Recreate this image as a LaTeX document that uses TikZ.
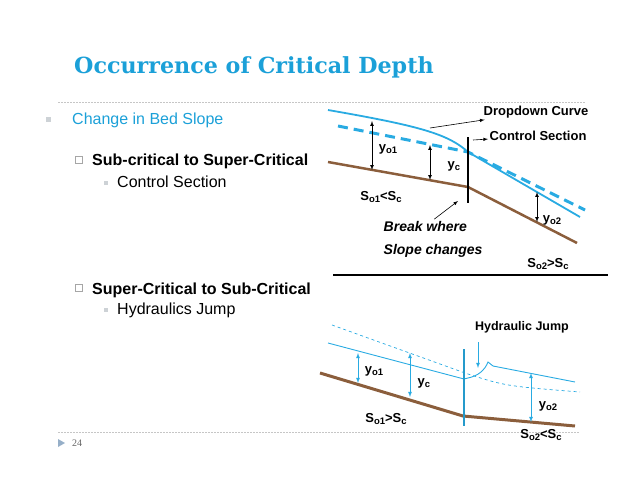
\documentclass[tikz,border=0pt]{standalone}
\usepackage{fontspec}
\setmainfont{Liberation Sans}
\newfontfamily\titlefont{DejaVu Serif}
\newfontfamily\pagefont{Liberation Serif}
\usetikzlibrary{positioning, arrows, shapes}

\definecolor{slideblue}{RGB}{27,160,216}
\definecolor{waterblue}{RGB}{41,171,226}
\definecolor{bedbrown}{RGB}{139,94,60}
\definecolor{bulletgray}{RGB}{205,210,214}
\definecolor{pagegray}{RGB}{150,175,200}

\newcommand{\dep}[2]{\textbf{#1}\raisebox{-0.35ex}{\fontsize{9.5}{10}\selectfont\bfseries #2}}

\tikzset{
  body/.style={anchor=base west, inner sep=0, font=\fontsize{16}{19}\selectfont},
  bulone/.style={fill=bulletgray, minimum size=5pt, inner sep=0},
  bultwo/.style={draw=gray!70, line width=0.6, minimum size=7pt, inner sep=0},
  bulthree/.style={fill=bulletgray, minimum size=4pt, inner sep=0},
  tag/.style={inner sep=1.5pt, font=\fontsize{13}{15}\selectfont\bfseries},
  bed/.style={draw=bedbrown, line width=2.5},
  water/.style={draw=waterblue, line width=1.8},
  crit/.style={draw=waterblue, line width=3, dash pattern=on 10pt off 6pt},
  depth/.style={<->, >=latex, line width=0.7},
  bdepth/.style={<->, >=latex, line width=0.8, waterblue},
  pointer/.style={->, >=latex, line width=0.6},
  sep/.style={draw=gray!45, line width=0.6, dash pattern=on 1.5pt off 1.5pt}
}

\begin{document}
\begin{tikzpicture}[x=1pt, y=-1pt]
\useasboundingbox (0,0) rectangle (638,493);

\node[anchor=base west, inner sep=0, text=slideblue,
      font=\titlefont\bfseries\fontsize{22.2}{26}\selectfont] (title) at (74,73.5) {Occurrence of Critical Depth};
\draw[sep] (58,102) -- (585,102);
\draw[sep] (58,432) -- (580,432);

% bullets
\node[bulone] (b1) at (48,119) {};
\node[body, text=slideblue] (t1) at (72,124) {Change in Bed Slope};
\node[bultwo] (b2) at (79,160) {};
\node[body, font=\fontsize{16}{19}\selectfont\bfseries] (t2) at (92,165) {Sub-critical to Super-Critical};
\node[bulthree] (b3) at (106,183) {};
\node[body] (t3) at (117,187.5) {Control Section};
\node[bultwo] (b4) at (79,288) {};
\node[body, font=\fontsize{16}{19}\selectfont\bfseries] (t4) at (92,294) {Super-Critical to Sub-Critical};
\node[bulthree] (b5) at (106,310) {};
\node[body] (t5) at (117,314.5) {Hydraulics Jump};

\fill[pagegray] (58,439) -- (65,443) -- (58,447) -- cycle;
\node[anchor=west, inner sep=0, text=gray!80!black, font=\pagefont\fontsize{10}{12}\selectfont] (pg) at (72,443) {24};

% sub- to super-critical
\coordinate (w1) at (328,110);
\coordinate (w2) at (468,152);
\coordinate (w3) at (580,217);
\coordinate (c1) at (338,126);
\coordinate (c3) at (585,210);
\coordinate (g1) at (328,162);
\coordinate (g2) at (468,187);
\coordinate (g3) at (577,243);
\draw[water] (w1) .. controls (420,126) and (448,134) .. (w2) -- (w3);
\draw[crit] (c1) -- (w2) -- (c3);
\draw[bed] (g1) -- (g2) -- (g3);
\draw[line width=2.5] (468,137) -- (468,203);
\draw[line width=1.8] (333,275) -- (608,275);

\coordinate (yo1t) at (372,121);
\coordinate (yo1b) at (372,170);
\coordinate (yct) at (430,145);
\coordinate (ycb) at (430,180);
\coordinate (yo2t) at (537,192);
\coordinate (yo2b) at (537,222);
\draw[depth] (yo1t) -- (yo1b);
\draw[depth] (yct) -- (ycb);
\draw[depth] (yo2t) -- (yo2b);

\node[tag] (lyo1) at (388,149) {\dep{y}{o1}};
\node[tag] (lyc) at (454,166) {\dep{y}{c}};
\node[tag] (lyo2) at (552,220) {\dep{y}{o2}};
\node[tag] (so1) at (381,197) {\dep{S}{o1}\textbf{<}\dep{S}{c}};
\node[tag] (so2) at (548,264) {\dep{S}{o2}\textbf{>}\dep{S}{c}};

\node[tag, anchor=west] (dd) at (482,112) {Dropdown Curve};
\node[tag, anchor=west] (cs) at (488,136) {Control Section};
\coordinate (ddfoot) at (430,128);
\coordinate (csfoot) at (473,140);
\draw[pointer] (ddfoot) -- (dd);
\draw[pointer] (csfoot) -- (cs);

\node[tag, anchor=west, font=\fontsize{14}{16}\selectfont\bfseries\itshape] (brk) at (382,226) {Break where};
\node[tag, anchor=west, font=\fontsize{14}{16}\selectfont\bfseries\itshape] (slp) at (382,251) {Slope changes};
\coordinate (brkhead) at (458,201);
\draw[pointer, <-] (brkhead) -- (brk);

% super- to sub-critical
\coordinate (d1) at (332,325);
\coordinate (d2) at (465,373);
\coordinate (d3) at (580,392);
\coordinate (s1) at (328,343);
\coordinate (s2) at (464,379);
\coordinate (s3) at (488,362);
\coordinate (s4) at (575,382);
\coordinate (h1) at (320,373);
\coordinate (h2) at (463,416);
\coordinate (h3) at (575,426);
\draw[waterblue, line width=0.7, dash pattern=on 3pt off 3pt] (d1) -- (d2) .. controls (505,386) .. (d3);
\draw[waterblue, line width=0.9] (s1) -- (s2) -- (468,378) .. controls (478,376) and (485,370) .. (s3) -- (493,366) -- (s4);
\draw[bedbrown, line width=3] (h1) -- (h2) -- (h3);
\draw[waterblue!90!black, line width=2.5] (464,349) -- (464,426);

\coordinate (bo1t) at (358,353);
\coordinate (bo1b) at (358,383);
\coordinate (bct) at (410,353);
\coordinate (bcb) at (410,397);
\coordinate (bo2t) at (531,373);
\coordinate (bo2b) at (531,422);
\draw[bdepth] (bo1t) -- (bo1b);
\draw[bdepth] (bct) -- (bcb);
\draw[bdepth] (bo2t) -- (bo2b);

\node[tag, font=\fontsize{12.5}{15}\selectfont\bfseries] (hj) at (522,327) {Hydraulic Jump};
\coordinate (jtail) at (478,342);
\coordinate (jtoe) at (478,368);
\draw[pointer, waterblue, line width=0.8] (jtail) -- (jtoe);

\node[tag] (lbo1) at (374,371) {\dep{y}{o1}};
\node[tag] (lbc) at (424,383) {\dep{y}{c}};
\node[tag] (lbo2) at (548,406) {\dep{y}{o2}};
\node[tag] (sb1) at (386,419) {\dep{S}{o1}\textbf{>}\dep{S}{c}};
\node[tag] (sb2) at (541,435) {\dep{S}{o2}\textbf{<}\dep{S}{c}};
\end{tikzpicture}
\end{document}
